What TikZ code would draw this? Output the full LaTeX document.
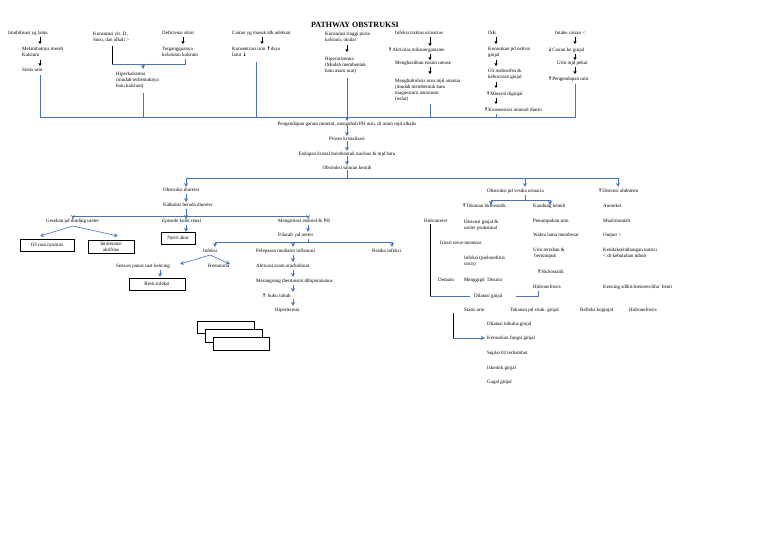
\documentclass[tikz,border=0pt]{standalone}
\usepackage{fontspec}
\setmainfont{Liberation Serif}
\newfontfamily\djv{DejaVu Sans}
\usetikzlibrary{arrows.meta}
\definecolor{bl}{RGB}{68,114,196}
\tikzset{t/.style={anchor=west,inner sep=0pt,font=\fontsize{5}{6}\selectfont,align=left},
 bx/.style={draw,line width=1pt,minimum height=12pt,inner sep=2pt,font=\fontsize{5}{6}\selectfont,align=center},
 ba/.style={line width=0.8pt,-{Triangle[length=2.5pt,width=3pt]}},
 bla/.style={bl,line width=0.6pt,-{Stealth[open,length=4pt,width=4pt]}},
 bll/.style={bl,line width=0.6pt}}
\newcommand{\ba}[3]{\draw[ba] (#1,#2) -- (#1,#3);}
\newcommand{\bla}[3]{\draw[bla] (#1,#2) -- (#1,#3);}
\newcommand{\up}{{\djv\bfseries ↑}}
\newcommand{\dn}{{\djv\bfseries ↓}}
\begin{document}
\begin{tikzpicture}[x=1pt,y=-1pt]
\useasboundingbox (0,0) rectangle (768,543);
\node[font=\bfseries\fontsize{8}{9}\selectfont] (title) at (355,25) {PATHWAY OBSTRUKSI};
% col1
\node[t] (a1) at (8,33) {Imobilisasi yg lama};
\ba{40}{37}{44}
\node[t] (a2) at (22,52) {Melambatnya metab\\Kalsium};
\ba{40}{60}{66}
\node[t] (a3) at (22,70) {Statis urin};
% col2
\node[t] (b1) at (93,37) {Konsumsi vit. D,\\Susu, dan alkali >};
\draw[line width=0.8pt] (112,46) -- (112,64);
\node[t] (c1) at (162,33) {Deficiensi sitrat};
\ba{183}{37}{44}
\node[t] (c2) at (162,52) {Tergangguanya\\kelarutan kalsium};
\draw[bll] (112,64) -- (185,64) -- (185,59);
\bla{143}{64}{69}
\node[t] (b2) at (116,80) {Hiperkalsemia\\(mudah terbentuknya\\batu kalsium)};
% col3
\node[t] (d1) at (232,33) {Cairan yg masuk tdk adekuat};
\ba{262}{37}{44}
\node[t] (d2) at (232,52) {Konsentrasi urin \up daya\\larut \dn};
% col4
\node[t] (e1) at (325,37) {Konsumsi tinggi purin\\kalsium, okulat};
\ba{347}{45}{52}
\node[t] (e2) at (325,65) {Hiperurisemia\\(Mudah membentuk\\batu asam urat)};
% col5
\node[t] (f1) at (395,33) {Infeksi traktus urinarius};
\ba{430}{37}{46}
\node[t] (f2) at (388,50) {\up Aktivitas mikroorganisme};
\ba{430}{54}{60}
\node[t] (f3) at (395,63) {Menghasilkan enzim urease};
\ba{430}{67}{74}
\node[t] (f4) at (395,90) {Menghidrolisis urea mjd amonia\\(mudah membentuk batu\\magnesium amonium\\fosfat)};
% col6
\node[t] (g1) at (488,33) {ISK};
\ba{496}{37}{44}
\node[t] (g2) at (488,52) {Kerusakan pd nefron\\ginjal};
\ba{496}{60}{66}
\node[t] (g3) at (488,74) {O3 reabsorbsi \&\\kebocoran ginjal};
\ba{496}{82}{88}
\node[t] (g4) at (486,94) {\up Mineral diginjal};
\ba{496}{98}{104}
\node[t] (g5) at (484,110) {\up Konsentrasi mineral diurin};
% col7
\node[t] (h1) at (555,33) {Intake cairan <};
\ba{575}{37}{44}
\node[t] (h2) at (548,50) {\dn Cairan ke ginjal};
\ba{575}{54}{60}
\node[t] (h3) at (557,63) {Urin mjd pekat};
\ba{575}{67}{74}
\node[t] (h4) at (548,79) {\up Pengendapan urin};
% collectors
\draw[bll] (40,75) -- (40,117) -- (575,117) -- (575,84);
\draw[bll] (143,93) -- (143,117);
\draw[bll] (256,62) -- (256,117);
\draw[bll] (430,104) -- (430,117);
\draw[bll] (496,114) -- (496,117);
\draw[bla] (347,78) -- (347,121);
% center chain
\node[font=\fontsize{5}{6}\selectfont,inner sep=0pt] (m1) at (347,124) {Pengendapan garam mineral, mengubah PH urin, dr asam mjd alkalis};
\draw[bla] (m1) -- (347,136);
\node[font=\fontsize{5}{6}\selectfont,inner sep=0pt] (m2) at (347,139) {Proses kristalisasi};
\draw[bla] (m2) -- (347,151);
\node[font=\fontsize{5}{6}\selectfont,inner sep=0pt] (m3) at (347,154) {Endapan kristal membentuk nucleus \& mjd batu};
\draw[bla] (m3) -- (347,165);
\node[font=\fontsize{5}{6}\selectfont,inner sep=0pt] (m4) at (347,168) {Obstruksi saluran kemih};
\draw[bll] (m4) -- (347,178);
\draw[bll] (186,178) -- (618,178);
\bla{186}{178}{187}\bla{525}{178}{187}\bla{618}{178}{187}
% left branch
\node[t] (l1) at (163,190) {Obstruksi diureter};
\bla{186}{194}{202}
\node[t] (l2) at (163,205) {Kalkulus berada diureter};
\draw[bll] (186,209) -- (186,216);
\draw[bll] (73,216) -- (308,216);
\bla{73}{216}{219}\bla{186}{216}{219}\bla{308}{216}{219}
\node[t] (l3) at (46,221) {Gesekan pd dinding ureter};
\node[t] (l4) at (162,221) {Episode kolik renal};
\node[t] (l5) at (278,221) {Mengiritasi endotel \& PH};
\draw[bla] (73,226) -- (40,236);
\draw[bla] (73,226) -- (118,236);
\node[bx,minimum width=54pt] (bx1) at (47,245) {O3 rasa nyaman};
\node[bx,minimum width=46pt] (bx2) at (111,247) {Intoleransi\\aktifitas};
\bla{186}{225}{232}
\node[bx,minimum width=34pt] (bx3) at (178,238) {Nyeri akut};
\bla{308}{225}{232}
\node[t] (l6) at (278,235) {P.darah\ \ pd ureter};
\draw[bll] (308,239) -- (308,242);
\draw[bll] (215,242) -- (392,242);
\bla{215}{242}{247}\bla{293}{242}{247}\bla{392}{242}{247}
\node[t] (l7) at (203,251) {Infeksi};
\node[t] (l8) at (256,251) {Pelepasan mediator inflamasi};
\node[t] (l9) at (372,251) {Resiko infeksi};
\draw[bla] (210,255) -- (180,264);
\draw[bla] (210,255) -- (230,264);
\node[t] (l10) at (116,266) {Sensasi panas saat kencing};
\node[t] (l11) at (208,266) {Hematuria};
\bla{160}{270}{277}
\node[bx,minimum width=56pt] (bx4) at (157,284) {Resti infeksi};
\bla{293}{255}{262}
\node[t] (l12) at (256,266) {Aktivasi asam arachidonat};
\bla{293}{270}{277}
\node[t] (l13) at (256,281) {Merangsang thermostat dihipotalamus};
\bla{293}{285}{292}
\node[t] (l14) at (262,296) {\up\ Suhu tubuh};
\bla{293}{299}{306}
\node[t] (l15) at (275,310) {Hipertermia};
\draw[line width=1pt,fill=white] (197,321) rectangle (254,333);
\draw[line width=1pt,fill=white] (205,329) rectangle (262,342);
\draw[line width=1pt,fill=white] (213,337) rectangle (269,350);
% right branch
\node[t] (r1) at (487,191) {Obstruksi pd vesika urinaria};
\node[t] (r2) at (598,191) {\up Distensi abdomen};
\draw[bll] (525,195) -- (525,200);
\draw[bll] (491,200) -- (550,200);
\bla{491}{200}{205}\bla{550}{200}{205}
\node[t] (r3) at (462,206) {\up Tekanan hidrostatik};
\node[t] (r4) at (533,206) {Kandung kemih};
\node[t] (r5) at (603,206) {Anoreksi};
\node[t] (r6) at (424,221) {Hidroureter};
\node[t] (r7) at (464,225) {Distensi ginjal \&\\ureter proksimal};
\node[t] (r8) at (533,221) {Penumpukan urin};
\node[t] (r9) at (603,221) {Mual/muntah};
\node[t] (r10) at (533,235) {Waktu lama membesar};
\node[t] (r11) at (603,235) {Output >};
\node[t] (r12) at (440,243) {Iritasi terus-menerus};
\node[t] (r13) at (533,253) {Urin tertahan \&\\\ bertumpuk};
\node[t] (r14) at (603,253) {Ketidakseimbangan nutrisi\\< dr kebutuhan tubuh};
\node[t] (r15) at (464,261) {Infeksi (pielonefritis\\sistis)};
\node[t] (r16) at (537,272) {\up Hidrostatik};
\node[t] (r17) at (438,280) {Demam\qquad Menggigil\ \ Disuria};
\node[t] (r18) at (533,287) {Hidronefrosis};
\node[t] (r19) at (603,287) {Kencing sdikit/menetes/tiba' henti};
\draw[line width=0.8pt] (430,224) -- (430,296);
\draw[bll] (430,296) -- (470,296);
\node[t] (r20) at (474,296) {Dilatasi ginjal};
\draw[bll] (516,296) -- (538,296) -- (538,291);
\node[t] (s1) at (464,310) {Statis urin};
\node[t] (s2) at (510,310) {Tekanan pd struk. ginjal};
\node[t] (s3) at (580,310) {Refleks koginjal};
\node[t] (s4) at (629,310) {Hidronefrosis};
\draw[line width=0.8pt] (453,313) -- (453,338);
\draw[bla] (453,338) -- (485,338);
\node[t] (s5) at (487,324) {Dilatasi tubulus ginjal};
\node[t] (s6) at (487,338) {Kerusakan fungsi ginjal};
\node[t] (s7) at (487,353) {Suplai 02 terhambat};
\node[t] (s8) at (487,368) {Iskemik ginjal};
\node[t] (s9) at (487,382) {Gagal ginjal};
\end{tikzpicture}
\end{document}
